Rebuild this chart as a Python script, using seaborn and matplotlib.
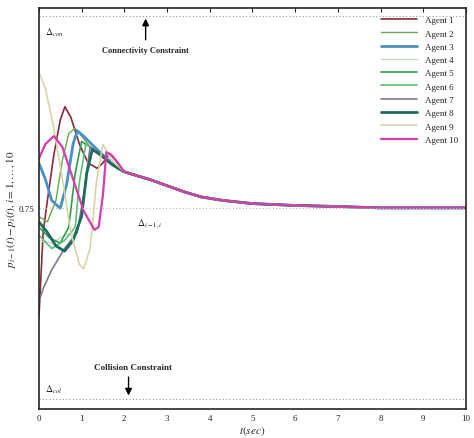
import seaborn as sns
import pandas as pd
import numpy as np
import matplotlib.pyplot as plt

# shared convergence tail (t, value)
tail_t = [2.0, 2.3, 2.6, 3.0, 3.4, 3.8, 4.3, 5.0, 6.0, 7.0, 8.0, 10.0]
tail_v = [0.887, 0.872, 0.858, 0.835, 0.812, 0.793, 0.78, 0.768, 0.761, 0.757, 0.752, 0.752]

agent1_t = [0.0, 0.05, 0.1, 0.2, 0.35, 0.5, 0.61, 0.75, 0.95, 1.15, 1.36, 1.5, 1.66, 1.85]
agent1_v = [0.34, 0.5, 0.66, 0.78, 0.95, 1.08, 1.13, 1.09, 0.99, 0.92, 0.90, 0.92, 0.955, 0.92]
agent2_t = [0.0, 0.2, 0.4, 0.55, 0.7, 0.85, 1.0, 1.2, 1.5, 1.8]
agent2_v = [0.72, 0.70, 0.78, 0.93, 1.03, 1.05, 1.02, 0.98, 0.94, 0.905]
agent3_t = [0.0, 0.15, 0.3, 0.5, 0.65, 0.8, 0.9, 1.05, 1.3, 1.6, 1.85]
agent3_v = [0.92, 0.86, 0.78, 0.75, 0.84, 0.99, 1.04, 1.02, 0.98, 0.935, 0.9]
agent4_t = [0.0, 0.3, 0.6, 0.9, 1.05, 1.15, 1.3, 1.5, 1.8]
agent4_v = [0.63, 0.62, 0.65, 0.66, 0.8, 0.93, 0.97, 0.94, 0.905]
agent5_t = [0.0, 0.25, 0.5, 0.7, 0.85, 1.0, 1.2, 1.5, 1.8]
agent5_v = [0.68, 0.64, 0.62, 0.68, 0.88, 1.0, 0.98, 0.94, 0.905]
agent6_t = [0.0, 0.3, 0.6, 0.85, 0.95, 1.1, 1.3, 1.55, 1.8]
agent6_v = [0.65, 0.60, 0.63, 0.68, 0.85, 0.99, 0.97, 0.935, 0.905]
agent7_t = [0.0, 0.1, 0.3, 0.6, 0.9, 1.05, 1.2, 1.4, 1.6, 1.8]
agent7_v = [0.40, 0.45, 0.52, 0.60, 0.66, 0.8, 0.98, 0.96, 0.93, 0.905]
agent8_t = [0.0, 0.2, 0.4, 0.6, 0.8, 1.0, 1.12, 1.25, 1.45, 1.7]
agent8_v = [0.70, 0.66, 0.61, 0.59, 0.63, 0.72, 0.88, 0.97, 0.95, 0.915]
agent9_t = [0.0, 0.15, 0.35, 0.55, 0.75, 0.95, 1.05, 1.2, 1.35, 1.5, 1.7]
agent9_v = [1.26, 1.2, 1.05, 0.86, 0.66, 0.54, 0.524, 0.6, 0.85, 0.99, 0.93]
agent10_t = [0.0, 0.15, 0.35, 0.55, 0.8, 1.05, 1.3, 1.4, 1.5, 1.58, 1.7, 1.85]
agent10_v = [0.935, 0.99, 1.02, 0.98, 0.86, 0.74, 0.67, 0.68, 0.8, 0.96, 0.95, 0.92]

agents_t = [agent1_t, agent2_t, agent3_t, agent4_t, agent5_t, agent6_t, agent7_t, agent8_t, agent9_t, agent10_t]
agents_v = [agent1_v, agent2_v, agent3_v, agent4_v, agent5_v, agent6_v, agent7_v, agent8_v, agent9_v, agent10_v]
labels = ["Agent %d" % (i + 1) for i in range(10)]
colors = ["#8b2a3a", "#6aa84f", "#4a90c8", "#c6dcc0", "#2e9e4e", "#5cbf78",
          "#807890", "#1f6b5e", "#d8d4a8", "#d63caa"]
widths = [1.2, 1.0, 2.0, 1.0, 1.2, 1.2, 1.2, 2.0, 1.2, 1.6]

delta_con = 1.47
delta_col = 0.037

rows = []
for lab, ts, vs in zip(labels, agents_t, agents_v):
    for t, v in zip(ts + tail_t, vs + tail_v):
        rows.append((lab, t, v))
df = pd.DataFrame(rows, columns=["agent", "t", "v"])

sns.set_style("white")
plt.rcParams['font.family'] = ['Liberation Serif', 'DejaVu Serif']
plt.rcParams['mathtext.fontset'] = 'stix'

fig = plt.figure(figsize=(4.74, 4.39), dpi=100)
ax = fig.add_axes([0.082, 0.066, 0.901, 0.914])

for lab, c, w in zip(labels, colors, widths):
    d = df[df.agent == lab]
    sns.lineplot(data=d, x="t", y="v", color=c, lw=w, ax=ax, label=lab, sort=False)

ax.axhline(delta_con, color="#999999", ls=(0, (1, 2)), lw=0.8)
ax.axhline(delta_col, color="#999999", ls=(0, (1, 2)), lw=0.8)
ax.axhline(0.75, color="#bbbbbb", ls=(0, (1, 2)), lw=0.8)

ax.text(0.15, 1.40, r"$\Delta_{con}$", fontsize=7)
ax.text(0.15, 0.065, r"$\Delta_{col}$", fontsize=7)
ax.text(2.3, 0.69, r"$\Delta_{i-1,i}$", fontsize=7)
ax.annotate("", xy=(2.5, 1.47), xytext=(2.5, 1.37),
            arrowprops=dict(arrowstyle="-|>", color="black", lw=1))
ax.text(2.5, 1.335, "Connectivity Constraint", fontsize=6, ha="center", fontweight="bold")
ax.annotate("", xy=(2.1, 0.04), xytext=(2.1, 0.13),
            arrowprops=dict(arrowstyle="-|>", color="black", lw=1))
ax.text(2.2, 0.15, "Collision Constraint", fontsize=6.5, ha="center", fontweight="bold")

ax.set_xlim(0, 10)
ax.set_ylim(0, 1.5)
ax.set_xticks(range(11))
ax.set_yticks([0.75])
ax.tick_params(labelsize=6.5, direction="in", top=True, length=3)
ax.set_xlabel(r"$t(sec)$", fontsize=8, labelpad=1)
ax.set_ylabel(r"$p_{i-1}(t)-p_i(t), i=1,\ldots,10$", fontsize=8, labelpad=0)
for s in ax.spines.values():
    s.set_linewidth(1.2)
ax.legend(loc="upper right", fontsize=6.5, frameon=False, handlelength=4, labelspacing=0.55)

fig.savefig("out.png", dpi=100)
